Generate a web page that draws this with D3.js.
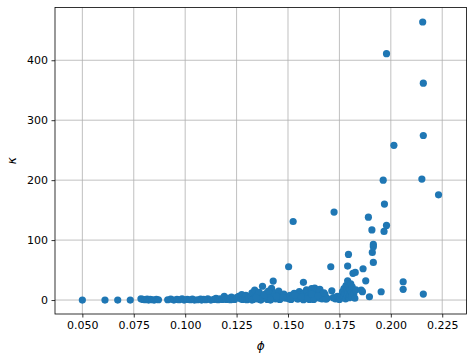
<!DOCTYPE html>
<html>
<head>
<meta charset="utf-8">
<script src="https://cdn.jsdelivr.net/npm/d3@7"></script>
<style>
  body { margin: 0; background: #fff; }
  text { font-family: "DejaVu Sans", sans-serif; }
</style>
</head>
<body>
<svg id="chart" width="474" height="361"></svg>
<script>
// values
const phiValues = [
  0.050, 0.061, 0.0672, 0.0733, 0.0785, 0.0795, 0.0805, 0.0815, 0.0822, 0.083,
  0.084, 0.085, 0.086, 0.087, 0.0915, 0.093, 0.0945, 0.096, 0.097, 0.0985,
  0.0995, 0.101, 0.1025, 0.1035, 0.1045, 0.106, 0.1075, 0.108, 0.109, 0.110,
  0.111, 0.1125, 0.114, 0.115, 0.116, 0.117, 0.118, 0.119, 0.120, 0.121,
  0.122, 0.1225, 0.123, 0.124, 0.125, 0.126, 0.127, 0.1275, 0.128, 0.129,
  0.1295, 0.130, 0.131, 0.132, 0.1325, 0.133, 0.1338, 0.134, 0.135, 0.1355,
  0.136, 0.1368, 0.1376, 0.138, 0.139, 0.1395, 0.140, 0.141, 0.142, 0.1428,
  0.143, 0.1435, 0.144, 0.145, 0.1455, 0.146, 0.147, 0.148, 0.149, 0.1503,
  0.1505, 0.151, 0.1525, 0.152, 0.153, 0.154, 0.155, 0.1555, 0.156, 0.157,
  0.1575, 0.158, 0.1585, 0.159, 0.160, 0.1605, 0.161, 0.1615, 0.162, 0.1625,
  0.163, 0.1635, 0.164, 0.1645, 0.165, 0.1655, 0.166, 0.1665, 0.167, 0.1675,
  0.168, 0.169, 0.1708, 0.1713, 0.1724, 0.172, 0.173, 0.174, 0.175, 0.1755,
  0.176, 0.1765, 0.177, 0.1772, 0.1775, 0.178, 0.1782, 0.1785, 0.1788, 0.179,
  0.179, 0.1794, 0.1792, 0.1796, 0.1798, 0.180, 0.1802, 0.1805, 0.1808, 0.181,
  0.1812, 0.1816, 0.182, 0.1825, 0.183, 0.1827, 0.1856, 0.1862, 0.1865, 0.1878,
  0.1891, 0.1896, 0.1908, 0.1910, 0.1915, 0.1915, 0.1915, 0.1953, 0.1963, 0.1967,
  0.1969, 0.1979, 0.1979, 0.2015, 0.2060, 0.2060, 0.2151, 0.2155, 0.2158, 0.2158,
  0.2158, 0.2232,
  0.1515, 0.1545, 0.1575, 0.1595, 0.1625, 0.1655, 0.1685, 0.1325, 0.1365, 0.1415,
  0.1445, 0.1475, 0.1535, 0.1565, 0.1615, 0.1645, 0.1675, 0.1345, 0.1385, 0.1405
];
const kappaValues = [
  0, 0, 0, 0, 2, 1, 0.5, 1.5, 0, 1,
  0.5, 0, 1, 0.5, 0.5, 1.5, 0, 1, 0.5, 2,
  0, 1, 0.5, 1.5, 0, 0.5, 1.5, 0, 1, 0.5,
  2, 0, 1, 3, 0.5, 2, 1, 6, 1, 3,
  0.5, 5, 2, 1, 4, 6, 2, 9, 1, 4,
  8, 0.5, 3, 7, 12, 1, 16.7, 5, 2, 9,
  13, 0, 23, 6, 3, 11, 1, 8, 19.5, 31.7,
  4, 12, 2, 7, 15, 1, 5, 10, 3, 55.5,
  2, 8, 131, 4, 11, 6, 2, 14, 9, 3,
  29.5, 12, 5, 17, 8, 1, 14, 19, 6, 11,
  20, 15, 9, 4, 13, 18, 7, 2, 11, 5,
  9, 3, 55.5, 15.5, 146.7, 4, 2, 6, 1, 3,
  8, 14, 5, 19, 10, 2, 24, 16, 7, 32,
  56.7, 76, 12, 21, 4, 9, 18, 27, 13, 6,
  22, 44.5, 10, 3, 17, 46, 16.7, 14, 52.2, 32,
  138.3, 5.5, 117, 79.5, 92.8, 89, 62.8, 13.8, 200, 114.5,
  160, 124.5, 411, 258, 30.5, 17.8, 201.7, 463.8, 361.7, 274.5,
  10, 175.5,
  1, 2, 0.5, 2.5, 1, 3, 1.5, 0, 1, 0,
  6, 4, 8, 5, 10, 7, 12, 4, 9, 15
];
const xTicks = [0.050, 0.075, 0.100, 0.125, 0.150, 0.175, 0.200, 0.225];
const yTicks = [0, 100, 200, 300, 400];

const points = phiValues.map((phi, i) => ({ phi, kappa: kappaValues[i] }));

const svg = d3.select("#chart");
const width = +svg.attr("width");
const height = +svg.attr("height");
const margin = { top: 7.5, right: 7.5, bottom: 47, left: 55 };
const innerW = width - margin.left - margin.right;
const innerH = height - margin.top - margin.bottom;
const g = svg.append("g").attr("transform", `translate(${margin.left},${margin.top})`);

const x = d3.scaleLinear().domain([0.0367, 0.2368]).range([0, innerW]);
const y = d3.scaleLinear().domain([-23.3, 488]).range([innerH, 0]);

// grid
g.append("g")
  .selectAll("line")
  .data(xTicks)
  .enter().append("line")
  .attr("x1", d => x(d)).attr("x2", d => x(d))
  .attr("y1", 0).attr("y2", innerH)
  .attr("stroke", "#b0b0b0").attr("stroke-width", 0.8);
g.append("g")
  .selectAll("line")
  .data(yTicks)
  .enter().append("line")
  .attr("x1", 0).attr("x2", innerW)
  .attr("y1", d => y(d)).attr("y2", d => y(d))
  .attr("stroke", "#b0b0b0").attr("stroke-width", 0.8);

// points
g.append("g")
  .selectAll("circle")
  .data(points)
  .enter().append("circle")
  .attr("cx", d => x(d.phi))
  .attr("cy", d => y(d.kappa))
  .attr("r", 3.6)
  .attr("fill", "#1f77b4");

// axes
const xAxis = g.append("g")
  .attr("transform", `translate(0,${innerH})`)
  .call(d3.axisBottom(x).tickValues(xTicks).tickFormat(d3.format(".3f")).tickSize(3.5).tickPadding(3.5));
const yAxis = g.append("g")
  .call(d3.axisLeft(y).tickValues(yTicks).tickFormat(d3.format("d")).tickSize(3.5).tickPadding(3.5));
[xAxis, yAxis].forEach(a => {
  a.select(".domain").remove();
  a.selectAll("line").attr("stroke", "#000").attr("stroke-width", 0.8);
  a.selectAll("text").attr("fill", "#000").style("font-size", "11px").style("font-family", "DejaVu Sans");
});

// frame
g.append("rect")
  .attr("width", innerW).attr("height", innerH)
  .attr("fill", "none").attr("stroke", "#000").attr("stroke-width", 0.8);

// axis labels
svg.append("text")
  .attr("x", margin.left + innerW / 2)
  .attr("y", 350)
  .attr("text-anchor", "middle")
  .style("font-size", "12px")
  .style("font-style", "italic")
  .text("ϕ");
svg.append("text")
  .attr("transform", `translate(16,${margin.top + innerH / 2}) rotate(-90)`)
  .attr("text-anchor", "middle")
  .style("font-size", "12px")
  .style("font-style", "italic")
  .text("κ");
</script>
</body>
</html>
